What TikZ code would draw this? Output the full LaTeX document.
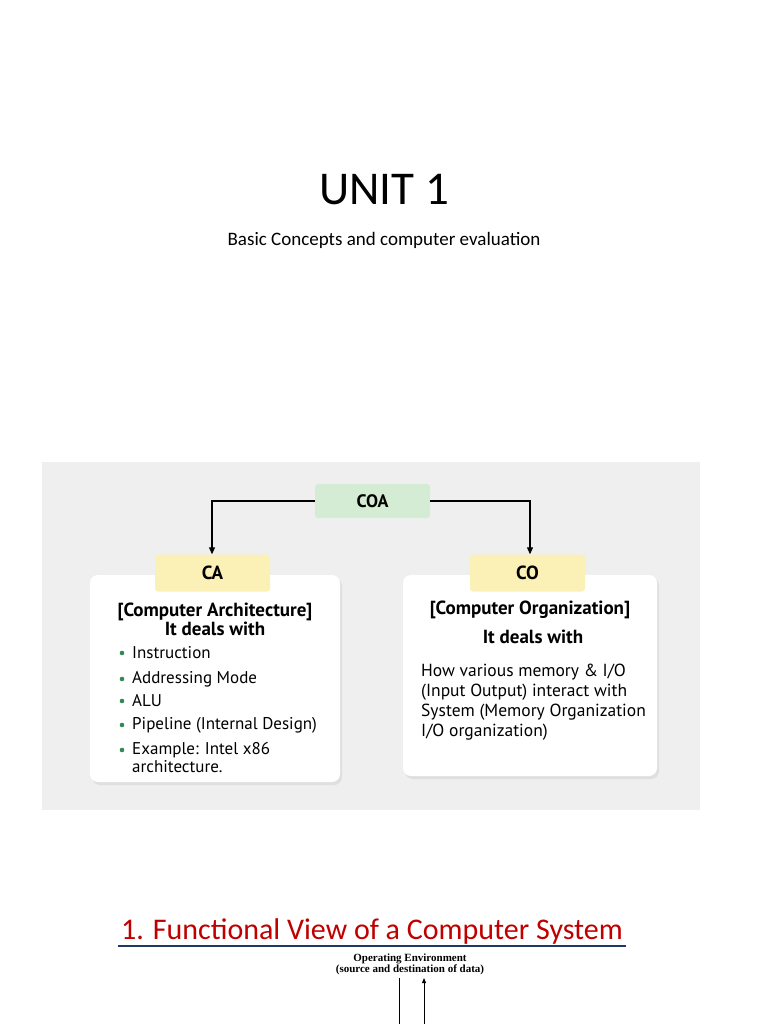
\documentclass[tikz,border=0pt]{standalone}
\usepackage{fontspec}
\setmainfont{Carlito}
\newfontfamily\ptsans{PT Sans}
\newfontfamily\serifb{Liberation Serif}
\usetikzlibrary{arrows.meta}
\definecolor{panel}{HTML}{EFEFEF}
\definecolor{coagreen}{HTML}{D5ECD4}
\definecolor{tabyel}{HTML}{FBF0B5}
\definecolor{titlered}{HTML}{C00000}
\definecolor{rulebl}{HTML}{1F3864}
\definecolor{bulgreen}{HTML}{2E8B57}
\tikzset{
  tab/.style={fill=tabyel, rounded corners=3pt, minimum width=115pt, minimum height=37pt, font=\ptsans\bfseries\fontsize{19}{19}\selectfont, anchor=center},
  txt/.style={font=\ptsans\fontsize{17}{19}\selectfont, inner sep=0pt},
  hdr/.style={txt, font=\ptsans\bfseries\fontsize{19}{19}\selectfont},
  arr/.style={-{Triangle[length=7pt,width=6pt]}, line width=1.1pt},
}
\begin{document}
\begin{tikzpicture}[x=1pt,y=-1pt]
\useasboundingbox (0,0) rectangle (768,1024);
\fill[white] (0,0) rectangle (768,1024);
\node[font=\fontsize{47}{47}\selectfont] (unit) at (384,190) {UNIT 1};
\node[font=\fontsize{19}{19}\selectfont] (sub) at (384,240) {Basic Concepts and computer evaluation};
\fill[panel] (42,462) rectangle (700,810);
\node[fill=coagreen, rounded corners=3pt, minimum width=115pt, minimum height=34pt, font=\ptsans\bfseries\fontsize{18}{18}\selectfont] (coa) at (372.5,501) {COA};
\fill[gray!25, rounded corners=8pt] (92,578) rectangle (342,785);
\fill[white, rounded corners=8pt] (90,575) rectangle (340,782);
\fill[gray!25, rounded corners=8pt] (405,578) rectangle (659,779);
\fill[white, rounded corners=8pt] (403,575) rectangle (657,776);
\node[tab] (ca) at (212.5,573) {CA};
\node[tab] (co) at (527.5,573) {CO};
\draw[arr] (coa.west) -| ([xshift=-0.5pt]ca.north);
\draw[arr] (coa.east) -| ([xshift=2.5pt]co.north);
\node[hdr, align=center] (cah) at (215,619) {[Computer Architecture]\\It deals with};
\foreach \yy/\t [count=\i] in {653/Instruction, 679/Addressing Mode, 701/ALU, 725/Pipeline (Internal Design), 750/Example: Intel x86} {
  \fill[bulgreen] (122,\yy) circle (2.3pt);
  \node[txt, anchor=west] (b\i) at (132,\yy) {\t};
}
\node[txt, anchor=west] (b6) at (132,767) {architecture.};
\node[hdr] (coh1) at (530,610) {[Computer Organization]};
\node[hdr] (coh2) at (533,637) {It deals with};
\node[txt, anchor=north west, align=left, font=\ptsans\fontsize{17.5}{20}\selectfont] (cop) at (421,664) {How various memory \& I/O\\(Input Output) interact with\\System (Memory Organization\\I/O organization)};
\node[font=\fontsize{30}{30}\selectfont, text=titlered] (ft) at (372,931) {1. Functional View of a Computer System};
\draw[rulebl, line width=1.6pt] (118,946) -- (626,946);
\node[font=\serifb\bfseries\fontsize{11}{10}\selectfont, align=center] (env) at (410,964) {Operating Environment\\(source and destination of data)};
\coordinate (d0) at (399,978);
\coordinate (d1) at (399,1026);
\coordinate (u0) at (424,1026);
\coordinate (u1) at (424,978);
\draw[line width=0.6pt] (d0) -- (d1);
\draw[line width=0.8pt, -{Triangle[length=5pt,width=4pt]}] (u0) -- (u1);
\end{tikzpicture}
\end{document}
